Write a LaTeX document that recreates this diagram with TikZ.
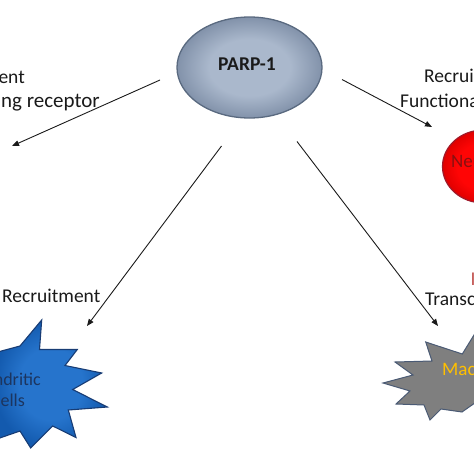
\documentclass[tikz,border=0pt]{standalone}
\usepackage{fontspec}
\setmainfont{Carlito}
\usetikzlibrary{arrows.meta,shapes.geometric}
\definecolor{parpin}{HTML}{AAB8CC}
\definecolor{parpout}{HTML}{8292AA}
\definecolor{parpline}{HTML}{5A6A80}
\definecolor{redin}{HTML}{FF0505}
\definecolor{redout}{HTML}{E00000}
\definecolor{redline}{HTML}{A01A2A}
\definecolor{bluein}{HTML}{2674CC}
\definecolor{blueout}{HTML}{135AAE}
\definecolor{blueline}{HTML}{183C74}
\definecolor{grayfill}{HTML}{7F7F7F}
\definecolor{grayline}{HTML}{4A5A74}
\definecolor{txt}{HTML}{1A1A1A}
\definecolor{dctxt}{HTML}{1C355F}
\definecolor{neutxt}{HTML}{8A1010}
\definecolor{mactxt}{HTML}{FFC000}
\definecolor{iltxt}{HTML}{C0504D}
\pgfdeclareradialshading{parpshade}{\pgfpoint{0bp}{0bp}}{color(0bp)=(parpin); color(14bp)=(parpin); color(25bp)=(parpout); color(50bp)=(parpout)}
\pgfdeclareradialshading{redshade}{\pgfpoint{0bp}{0bp}}{color(0bp)=(redin); color(16bp)=(redin); color(25bp)=(redout); color(50bp)=(redout)}
\pgfdeclareradialshading{blueshade}{\pgfpoint{0bp}{0bp}}{color(0bp)=(bluein); color(14bp)=(bluein); color(25bp)=(blueout); color(50bp)=(blueout)}
\begin{document}
\begin{tikzpicture}[x=1pt,y=-1pt,
  lbl/.style={inner sep=0pt,text=txt,font=\fontsize{19.5}{23}\selectfont},
  celltxt/.style={inner sep=0pt,font=\fontsize{18}{21}\selectfont},
  conn/.style={draw=txt,line width=0.9pt,-{Triangle[length=7pt,width=5.5pt]}}]
\useasboundingbox (0,0) rectangle (474,474);
\clip (0,0) rectangle (474,474);
% PARP-1
\node (parp) [ellipse,minimum width=145pt,minimum height=101pt,inner sep=0pt,
  shading=parpshade,draw=parpline,line width=1.3pt] at (249.5,67.5) {};
\node (parptxt) [inner sep=0pt,anchor=base,font=\fontsize{19.5}{23}\selectfont\bfseries,text=txt] at (247,70) {PARP-1};
% Neutrophils
\node (neu) [ellipse,minimum width=82pt,minimum height=73pt,inner sep=0pt,
  shading=redshade,draw=redline,line width=1.2pt] at (483.5,166.5) {};
\node (neutxt) [celltxt,anchor=base west,text=neutxt,font=\fontsize{19}{22}\selectfont] at (451,167) {Neutrophils};
% Dendritic cells starburst
\path[shading=blueshade,draw=blueline,line width=1.1pt]
  (-6,353) -- (20,346) -- (41.7,320) -- (39.5,349.5) -- (77.3,349.5) -- (65,365.5)
  -- (101.7,373) -- (72.7,389.5) -- (107.3,407) -- (68.3,410) -- (76,437.5)
  -- (52.7,426) -- (30.7,448) -- (20,431) -- (-6,440) -- cycle;
\node (dc1) [celltxt,anchor=base east,text=dctxt] at (41,385) {Dendritic};
\node (dc2) [celltxt,anchor=base east,text=dctxt] at (25,406) {cells};
% Macrophages starburst
\path[fill=grayfill,draw=grayline,line width=1pt]
  (482,322) -- (462.3,354) -- (425.7,342) -- (432,361) -- (395,362) -- (413,375)
  -- (383,383) -- (410,391) -- (396,404) -- (424,405) -- (430,420) -- (441,409)
  -- (462,412) -- (482,398) -- cycle;
\node (mactxt) [celltxt,anchor=base west,text=mactxt,font=\fontsize{19}{22}\selectfont] at (442,375) {Macrophages};
% labels
\node (l1a) [lbl,anchor=base east] at (25,83) {ent};
\node (l1b) [lbl,anchor=base east,font=\fontsize{21}{24}\selectfont] at (100,107) {ing receptor};
\node (l2) [lbl,anchor=base west] at (2,302) {Recruitment};
\node (l3a) [lbl,anchor=base west] at (424,82) {Recruitment};
\node (l3b) [lbl,anchor=base west] at (400,107) {Functional};
\node (l4a) [lbl,anchor=base west,text=iltxt] at (470.5,285) {I};
\node (l4b) [lbl,anchor=base west] at (425,305) {Transcription};
% connector end points
\coordinate (s1) at (160,80);
\coordinate (e1) at (12,146);
\coordinate (s2) at (221.5,146);
\coordinate (e2) at (87,326);
\coordinate (s3) at (297,141.5);
\coordinate (e3) at (438,326);
\coordinate (s4) at (342,79.5);
\coordinate (e4) at (432,127);
\draw[conn] (s1) -- (e1);
\draw[conn] (s2) -- (e2);
\draw[conn] (s3) -- (e3);
\draw[conn] (s4) -- (e4);
\end{tikzpicture}
\end{document}
